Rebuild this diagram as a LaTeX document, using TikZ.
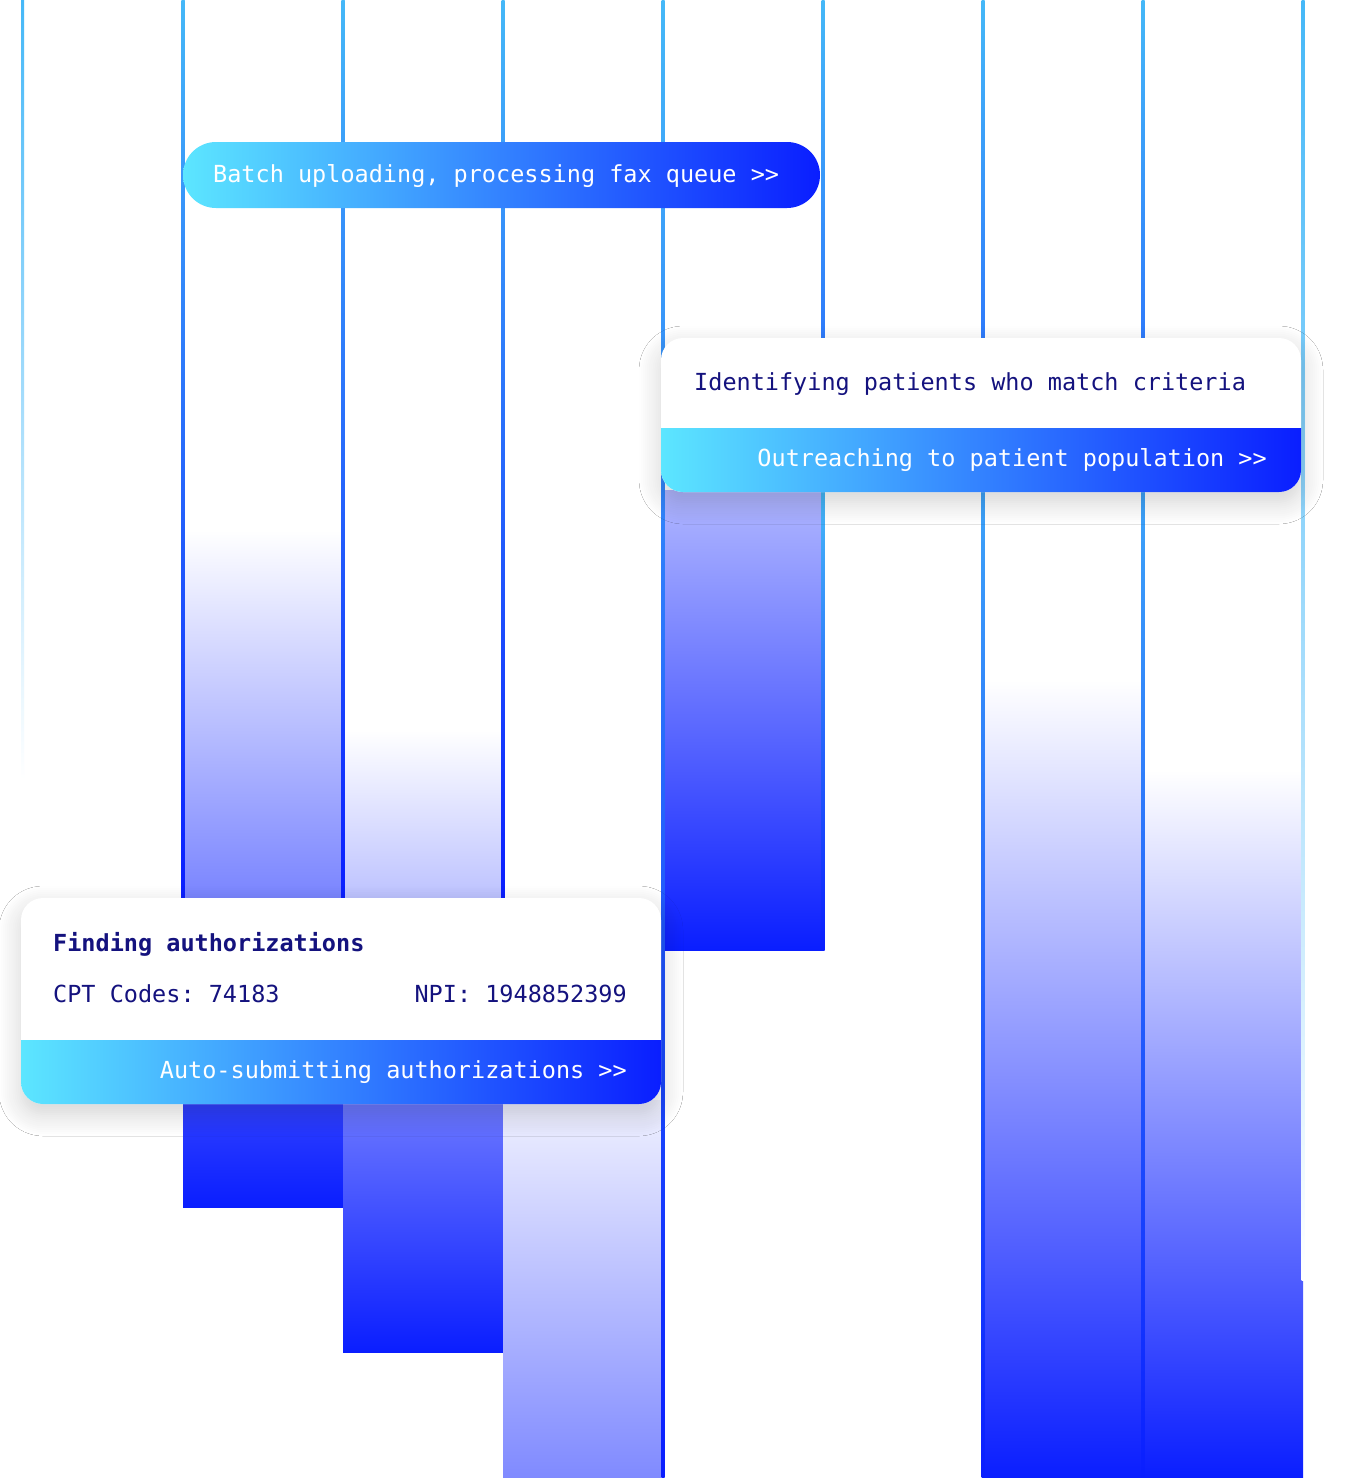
\documentclass[tikz,border=0pt]{standalone}
\usepackage{fontspec}
\setmonofont{DejaVu Sans Mono}
\usetikzlibrary{shadows.blur}
\definecolor{lb}{HTML}{45B8F8}
\definecolor{bb}{HTML}{0A1EFF}
\definecolor{cy}{HTML}{5CE6FF}
\definecolor{navy}{HTML}{14127E}
\tikzset{
 vline/.style={top color=lb,bottom color=bb,draw=none},
 col/.style={top color=white,bottom color=bb,draw=none},
 band/.style={left color=cy,right color=bb,draw=none},
 lbl/.style={font=\ttfamily\fontsize{23.5}{28}\selectfont,inner sep=0pt},
 cardshadow/.style={blur shadow={shadow xshift=0pt,shadow yshift=-10pt,shadow blur radius=22pt,shadow opacity=18,shadow blur steps=12}}
}
\begin{document}
\begin{tikzpicture}[x=1pt,y=-1pt]
\useasboundingbox (0,0) rectangle (1372,1478);
\fill[white] (0,0) rectangle (1372,1478);
% columns
\shade[col] (183,530) rectangle (343,1207);
\shade[col] (343,730) rectangle (503,1352);
\shade[top color=white!70!bb!20,bottom color=bb!52] (503,1100) rectangle (663,1478);
\shade[top color=bb!32,bottom color=bb] (663,490) rectangle (823,950);
\shade[col] (983,680) rectangle (1143,1478);
\shade[col] (1143,770) rectangle (1303,1478);
% lines
\shade[top color=lb,middle color=bb,bottom color=white] (21,0) rectangle (24,780);
\foreach \x in {183,343,503}{\shade[vline] (\x-1.5,0) rectangle (\x+1.5,900);}
\shade[vline] (661.5,0) rectangle (664.5,1478);
\shade[top color=lb,bottom color=lb!60!bb] (821.5,0) rectangle (824.5,338);
\shade[vline] (821.5,490) rectangle (824.5,950);
\foreach \x in {983,1143}{
 \shade[top color=lb,bottom color=lb!60!bb] (\x-1.5,0) rectangle (\x+1.5,338);
 \shade[vline] (\x-1.5,338) rectangle (\x+1.5,1478);}
\shade[top color=lb,middle color=bb!90!lb,bottom color=white] (1301.5,0) rectangle (1304.5,1280);
\foreach \x in {183,343}{\shade[vline] (\x-1.5,0) rectangle (\x+1.5,900);}
% pill
\shade[band,rounded corners=33pt] (183,142) rectangle (820,208);
\node[lbl,text=white,anchor=west] (batch) at (213,176) {Batch uploading, processing fax queue >>};
% card 2
\fill[white,rounded corners=22pt,cardshadow] (661,338) rectangle (1301,492);
\begin{scope}
\clip[rounded corners=22pt] (661,338) rectangle (1301,492);
\shade[band] (661,428) rectangle (1301,492);
\end{scope}
\node[lbl,text=navy,anchor=west] (ident) at (694,384) {Identifying patients who match criteria};
\node[lbl,text=white,anchor=east] (outr) at (1267,460) {Outreaching to patient population >>};
% card 3
\fill[white,rounded corners=22pt,cardshadow] (21,898) rectangle (661,1104);
\begin{scope}
\clip[rounded corners=22pt] (21,898) rectangle (661,1104);
\shade[band] (21,1040) rectangle (661,1104);
\end{scope}
\node[lbl,text=navy,anchor=west,font=\ttfamily\bfseries\fontsize{23.5}{28}\selectfont] (find) at (53,944) {Finding authorizations};
\node[lbl,text=navy,anchor=west] (cpt) at (53,994) {CPT Codes: 74183};
\node[lbl,text=navy,anchor=east] (npi) at (627,994) {NPI: 1948852399};
\node[lbl,text=white,anchor=east] (auto) at (627,1072) {Auto-submitting authorizations >>};
\end{tikzpicture}
\end{document}
